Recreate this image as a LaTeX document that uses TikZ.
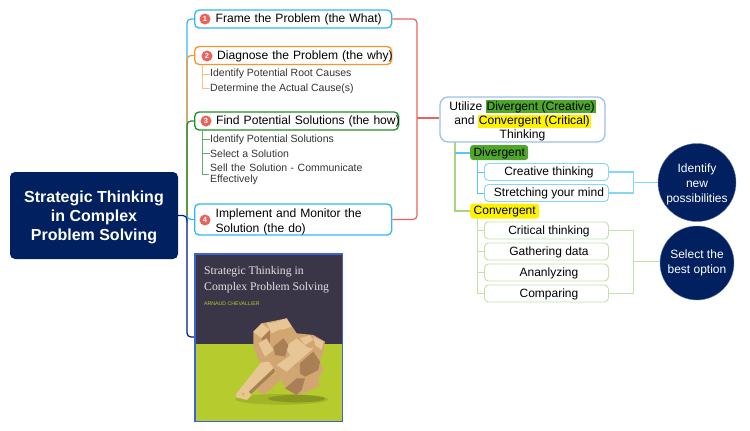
\documentclass[tikz,border=0pt]{standalone}
\usepackage{fontspec}
\setmainfont{Liberation Sans}
\newfontfamily\coverfont{Liberation Serif}
\usetikzlibrary{positioning}
\usetikzlibrary{calc}
\definecolor{navy}{HTML}{002060}
\definecolor{skyline}{HTML}{35B6F2}
\definecolor{paleSky}{HTML}{86D6F8}
\definecolor{orangeline}{HTML}{F7962B}
\definecolor{greenline}{HTML}{1F8F2A}
\definecolor{redline}{HTML}{E9635C}
\definecolor{paleGreen}{HTML}{C3E2A8}
\definecolor{midGreen}{HTML}{A5D77E}
\definecolor{utilBlue}{HTML}{9CC0E8}
\definecolor{divFill}{HTML}{4EA72A}
\definecolor{bookBlue}{HTML}{3D62D8}
\definecolor{coverDark}{HTML}{3A3648}
\definecolor{coverLime}{HTML}{B6CC2E}
\definecolor{woodA}{HTML}{E8C595}
\definecolor{woodB}{HTML}{D2A673}
\definecolor{woodC}{HTML}{A97F55}
\definecolor{subtext}{HTML}{333333}
\newcommand{\hlgreen}[1]{{\setlength{\fboxsep}{0.8pt}\colorbox{divFill}{#1}}}
\newcommand{\hlyellow}[1]{{\setlength{\fboxsep}{0.8pt}\colorbox{yellow}{#1}}}
\tikzstyle{root} = [fill=navy, rounded corners=5pt, text=white, font=\bfseries\fontsize{16}{19}\selectfont, align=center, minimum width=168pt, minimum height=87pt, inner sep=0pt]
\tikzstyle{topic} = [draw, fill=white, line width=1.3pt, rounded corners=4.5pt, font=\fontsize{12.1}{14.5}\selectfont, align=left, minimum height=18pt, inner sep=0pt, anchor=west]
\tikzstyle{badge} = [circle, fill=redline, text=white, font=\bfseries\fontsize{7.5}{8}\selectfont, minimum size=11pt, inner sep=0pt]
\tikzstyle{item} = [font=\fontsize{10.5}{12}\selectfont, text=subtext, align=left, anchor=west, inner sep=0pt]
\tikzstyle{leaf} = [draw, fill=white, line width=0.9pt, rounded corners=4pt, font=\fontsize{12}{13}\selectfont, minimum width=124pt, minimum height=17pt, inner sep=0pt, anchor=west, text height=.8em, text depth=.08em, execute at begin node=\hspace*{5pt}]
\tikzstyle{tag} = [rounded corners=3pt, minimum height=15pt, inner sep=0pt, font=\fontsize{12}{13}\selectfont, anchor=west, text height=.8em, text depth=.08em]
\tikzstyle{bubble} = [circle, fill=navy, draw=navy!60, text=white, font=\fontsize{12}{15}\selectfont, align=center, inner sep=0pt]
\tikzstyle{link} = [line width=1.2pt, rounded corners=4pt]
\tikzstyle{coord} = [coordinate]
\begin{document}
\begin{tikzpicture}[x=1pt,y=-1pt,node distance=21pt]
    \useasboundingbox (0,0) rectangle (750,431);
    \node [root] (root) at (94,215.5) {\rule{0pt}{15.5pt}Strategic Thinking\\in Complex\\Problem Solving};
    \node [coord] (trunk) at (187,215.5) {};

    \node [topic, draw=skyline, text width=197pt, text height=.8em, text depth=.08em] (frame) at (194,19) {\hspace*{21pt}\mbox{Frame the Problem (the What)}};
    \node [topic, draw=orangeline, text width=197pt, text height=.8em, text depth=.08em] (diagnose) at (194,55.5) {\hspace*{22.5pt}\mbox{Diagnose the Problem (the why)}};
    \node [topic, draw=greenline, text width=204pt, text height=.8em, text depth=.08em] (find) at (194,121) {\hspace*{21.5pt}\mbox{Find Potential Solutions (the how)}};
    \node [topic, draw=skyline, text width=197pt, minimum height=31pt] (implement) at (194,219.5) {\rule{0pt}{13pt}\hspace*{21pt}Implement and Monitor the\\\hspace*{21pt}Solution (the do)};

    \node [badge] (one) at (205,19) {1};
    \node [badge] (two) at (207,56) {2};
    \node [badge] (three) at (206,121) {3};
    \node [badge] (four) at (205,220) {4};

    \node [item] (rootcauses) at (210,74) {Identify Potential Root Causes};
    \node [item] (actualcause) at (210,88.5) {Determine the Actual Cause(s)};
    \node [item] (identify) at (210,139.5) {Identify Potential Solutions};
    \node [item] (select) at (210,153.5) {Select a Solution};
    \node [item, text width=165pt] (sell) at (210,174.5) {Sell the Solution - Communicate\\[-0.5pt]Effectively};

    \node [coord] (diagstem) at (202,64.5) {};
    \node [coord] (findstem) at (202,130) {};
    \node [coord] (sellend) at (209,174) {};
    \node [coord] (bookjoin) at (195,337) {};

    \draw [link, skyline] (trunk) |- (frame.west);
    \draw [link, skyline] (trunk) -- ++(0,3) |- (implement.west);
    \draw [link, orangeline] (trunk) |- (diagnose.west);
    \draw [link, greenline] (trunk) |- (find.west);
    \draw [link, navy!75!blue] (root.east) -- (trunk) |- (bookjoin);

    \draw [orangeline!60, line width=0.9pt] (diagstem) |- (rootcauses.west);
    \draw [orangeline!60, line width=0.9pt] (diagstem) |- (actualcause.west);
    \draw [greenline!70, line width=0.9pt] (findstem) |- (identify.west);
    \draw [greenline!70, line width=0.9pt] (findstem) |- (select.west);
    \draw [greenline!70, line width=0.9pt] (findstem) |- (sellend);

    \node [draw=utilBlue, fill=white, line width=1.3pt, rounded corners=8pt, minimum width=165pt, minimum height=45pt, inner sep=0pt, align=center, font=\fontsize{12.1}{14.2}\selectfont] (utilize) at (522.5,119.5) {\rule{0pt}{12pt}Utilize \hlgreen{Divergent (Creative)}\\and \hlyellow{Convergent (Critical)}\\Thinking};
    \node [coord] (redjoin) at (417,118) {};
    \draw [link, redline] (frame.east) -| (redjoin);
    \draw [link, redline] (implement.east) -| (redjoin);
    \draw [redline, line width=1.2pt] (redjoin) -- (redjoin -| utilize.west);

    \node [tag, fill=divFill, minimum width=58pt] (divergent) at (470,152.5) {Divergent};
    \node [tag, fill=yellow, minimum width=69pt] (convergent) at (470,211) {Convergent};
    \node [coord] (utilstem) at (455,142) {};
    \draw [midGreen, line width=1.2pt] (utilstem) |- (convergent.west);
    \draw [skyline!80, line width=2pt] (utilstem |- divergent.west) -- (divergent.west);

    \node [leaf, draw=paleSky] (creative) at (484,172) {Creative thinking};
    \node [leaf, draw=paleSky, below of=creative] (stretching) {Stretching your mind};
    \node [leaf, draw=paleGreen] (critical) at (484,230.5) {Critical thinking};
    \node [leaf, draw=paleGreen, below of=critical] (gathering) {Gathering data};
    \node [leaf, draw=paleGreen, below of=gathering] (analyzing) {Ananlyzing};
    \node [leaf, draw=paleGreen, below of=analyzing] (comparing) {Comparing};

    \node [coord] (divstem) at (477,160) {};
    \node [coord] (constem) at (477,218) {};
    \draw [skyline!80, line width=1pt] (divstem) |- (creative.west);
    \draw [skyline!80, line width=1pt] (divstem) |- (stretching.west);
    \draw [paleGreen, line width=1pt] (constem) |- (critical.west);
    \draw [paleGreen, line width=1pt] (constem) |- (gathering.west);
    \draw [paleGreen, line width=1pt] (constem) |- (analyzing.west);
    \draw [paleGreen, line width=1pt] (constem) |- (comparing.west);

    \node [bubble, minimum size=78pt] (identifynew) at (697,182.5) {\rule{0pt}{12pt}Identify\\new\\possibilities};
    \node [bubble, minimum size=74pt] (selectbest) at (697,263) {Select the\\best option};
    \node [coord] (divbar) at (633.5,182.5) {};
    \node [coord] (conbar) at (633.5,261.5) {};
    \draw [paleSky, line width=1.2pt] (creative.east) -| (divbar);
    \draw [paleSky, line width=1.2pt] (stretching.east) -| (divbar);
    \draw [paleSky, line width=1.2pt] (divbar) -- (identifynew.west);
    \draw [paleGreen, line width=1.2pt] (critical.east) -| (conbar);
    \draw [paleGreen, line width=1.2pt] (comparing.east) -| (conbar);
    \draw [paleGreen, line width=1.2pt] (conbar) -- (selectbest.west |- conbar);

    \node [fill=coverDark, minimum width=147pt, minimum height=167pt, inner sep=0pt, anchor=north west] (book) at (195,254) {};
    \fill [coverLime] (195,344) rectangle (342,421);
    % puzzle
    \begin{scope}[shift={(225,310)},x=.3333pt,y=-.3333pt]
        \fill [black!60!coverLime, opacity=.18] (170,268) ellipse (140 and 16);
        \fill [black!60!coverLime, opacity=.3] (215,266) ellipse (85 and 11);
        \fill [woodB] (85,65) -- (110,40) -- (185,25) -- (215,70) -- (265,75) -- (300,95) -- (295,125) -- (285,155) -- (295,180) -- (280,205) -- (285,225) -- (250,245) -- (215,255) -- (180,235) -- (170,210) -- (150,185) -- (125,170) -- (100,150) -- (85,110) -- cycle;
        \fill [woodB] (88,225) -- (108,218) -- (150,190) -- (175,205) -- (120,252) -- (105,250) -- cycle;
        \fill [woodA] (33,252) -- (108,158) -- (132,155) -- (146,175) -- (72,245) -- (80,255) -- (66,270) -- (34,262) -- cycle;
        \fill [woodC] (72,245) -- (146,175) -- (150,185) -- (78,252) -- cycle;
        \fill [coverLime] (50,248) -- (60,251) -- (54,258) -- cycle;
        \fill [woodC] (225,160) -- (265,125) -- (285,155) -- (280,180) -- (240,200) -- (225,190) -- cycle;
        \fill [woodA] (180,110) -- (215,85) -- (245,110) -- (215,140) -- (195,135) -- cycle;
        \fill [woodB!80!woodC] (195,135) -- (215,140) -- (215,172) -- (198,165) -- cycle;
        \fill [woodA] (85,65) -- (110,40) -- (135,60) -- (110,85) -- cycle;
        \fill [woodC] (110,85) -- (135,60) -- (135,100) -- (115,115) -- cycle;
        \fill [woodA] (125,40) -- (160,35) -- (170,55) -- (140,70) -- cycle;
        \fill [woodA] (155,35) -- (185,25) -- (200,50) -- (170,60) -- cycle;
        \fill [woodC] (145,110) -- (175,85) -- (190,105) -- (180,140) -- (150,135) -- cycle;
        \fill [woodA] (155,165) -- (235,110) -- (265,115) -- (185,185) -- cycle;
        \fill [woodA] (100,100) -- (125,85) -- (145,120) -- (120,140) -- cycle;
        \fill [woodA] (225,85) -- (255,75) -- (265,90) -- (240,105) -- cycle;
        \fill [woodA] (265,80) -- (295,95) -- (290,120) -- (270,105) -- cycle;
        \fill [woodC] (180,235) -- (215,205) -- (240,205) -- (230,240) -- (215,255) -- cycle;
    \end{scope}
    \draw [bookBlue, line width=1.2pt] (book.north west) rectangle (book.south east);
    \node [inner sep=0pt, anchor=west, text=white!85!coverDark, font=\coverfont\fontsize{11.7}{13}\selectfont] (covertitle) at (204,272) {Strategic Thinking in};
    \node [inner sep=0pt, anchor=west, text=white!85!coverDark, font=\coverfont\fontsize{11.7}{13}\selectfont] (coversub) at (204,288) {Complex Problem Solving};
    \node [inner sep=0pt, anchor=west, text=coverLime, font=\fontsize{5.2}{6}\selectfont] (coverauthor) at (204,304) {ARNAUD CHEVALLIER};
\end{tikzpicture}
\end{document}
